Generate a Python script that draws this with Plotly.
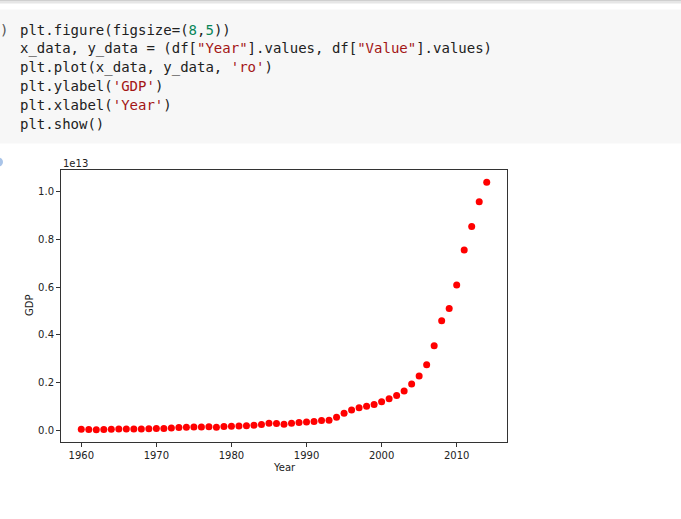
import plotly.graph_objects as go

# ---- data ----
years = list(range(1960, 2015))
gdp = [
    6.0e10, 5.0e10, 4.7e10, 5.0e10, 5.9e10, 7.0e10, 7.6e10, 7.2e10, 7.0e10, 7.9e10,   # 1960-1969
    9.2e10, 9.9e10, 1.12e11, 1.37e11, 1.42e11, 1.62e11, 1.52e11, 1.72e11, 1.49e11, 1.77e11,  # 1970-1979
    1.91e11, 1.95e11, 2.05e11, 2.31e11, 2.60e11, 3.10e11, 3.01e11, 2.73e11, 3.12e11, 3.48e11,  # 1980-1989
    3.61e11, 3.83e11, 4.27e11, 4.44e11, 5.64e11, 7.34e11, 8.63e11, 9.61e11, 1.029e12, 1.094e12,  # 1990-1999
    1.211e12, 1.339e12, 1.471e12, 1.660e12, 1.955e12, 2.286e12, 2.752e12, 3.552e12, 4.598e12, 5.110e12,  # 2000-2009
    6.087e12, 7.552e12, 8.532e12, 9.570e12, 1.0375e13,  # 2010-2014
]
x_ticks = [1960, 1970, 1980, 1990, 2000, 2010]
y_ticks = [0.0, 0.2e13, 0.4e13, 0.6e13, 0.8e13, 1.0e13]
y_tick_text = ["0.0", "0.2", "0.4", "0.6", "0.8", "1.0"]

code_lines = [
    'plt.figure(figsize=(<span style="color:#098658">8</span>,<span style="color:#098658">5</span>))',
    'x_data, y_data = (df[<span style="color:#a31515">"Year"</span>].values, df[<span style="color:#a31515">"Value"</span>].values)',
    'plt.plot(x_data, y_data, <span style="color:#a31515">\'ro\'</span>)',
    'plt.ylabel(<span style="color:#a31515">\'GDP\'</span>)',
    'plt.xlabel(<span style="color:#a31515">\'Year\'</span>)',
    'plt.show()',
]

# ---- geometry ----
W, H = 681, 519
L, R, T, B = 61, 507, 170, 442
PW, PH = R - L, B - T


def px(x):
    return (x - L) / PW


def py(y):
    return (B - y) / PH


fig = go.Figure()
fig.add_trace(go.Scatter(
    x=years, y=gdp, mode="markers",
    marker=dict(color="#ff0000", size=7, line=dict(width=0)),
    hoverinfo="skip", showlegend=False,
))

shapes = [
    # top shadow
    dict(type="rect", xref="paper", yref="paper", x0=px(0), x1=px(W), y0=py(0), y1=py(1.5),
         fillcolor="#cfcfcf", line=dict(width=0), layer="below"),
    dict(type="rect", xref="paper", yref="paper", x0=px(0), x1=px(W), y0=py(1.5), y1=py(3.5),
         fillcolor="#e6e6e6", line=dict(width=0), layer="below"),
    # code cell background
    dict(type="rect", xref="paper", yref="paper", x0=px(0), x1=px(W), y0=py(9.5), y1=py(143.5),
         fillcolor="#f7f7f7", line=dict(width=0), layer="below"),
    # output prompt icon fragment
    dict(type="circle", xref="paper", yref="paper", x0=px(-6), x1=px(3), y0=py(157.5), y1=py(166.5),
         fillcolor="#a9c4e8", line=dict(width=0), layer="above"),
]

annotations = []
line_y = [30, 48.8, 67.6, 86.4, 105.2, 124]
for txt, yy in zip(code_lines, line_y):
    annotations.append(dict(
        text=txt, xref="paper", yref="paper", x=px(18), y=py(yy),
        xanchor="left", yanchor="middle", showarrow=False,
        font=dict(family="DejaVu Sans Mono", size=14, color="#212121"),
    ))
# prompt fragment ")"
annotations.append(dict(
    text=")", xref="paper", yref="paper", x=px(-2), y=py(30),
    xanchor="left", yanchor="middle", showarrow=False,
    font=dict(family="DejaVu Sans Mono", size=14, color="#555555"),
))
# offset text
annotations.append(dict(
    text="1e13", xref="paper", yref="paper", x=px(61), y=py(163),
    xanchor="left", yanchor="middle", showarrow=False,
    font=dict(family="DejaVu Sans", size=10, color="#222222"),
))
# axis labels
annotations.append(dict(
    text="GDP", xref="paper", yref="paper", x=px(29), y=py(306),
    xanchor="center", yanchor="middle", showarrow=False, textangle=-90,
    font=dict(family="DejaVu Sans", size=10, color="#222222"),
))
annotations.append(dict(
    text="Year", xref="paper", yref="paper", x=px(284), y=py(467),
    xanchor="center", yanchor="middle", showarrow=False,
    font=dict(family="DejaVu Sans", size=10, color="#222222"),
))

span_x = years[-1] - years[0]
span_y = max(gdp) - min(gdp)
fig.update_layout(
    width=W, height=H, autosize=False,
    margin=dict(l=L, r=W - R, t=T, b=H - B, pad=0),
    paper_bgcolor="white", plot_bgcolor="white",
    shapes=shapes, annotations=annotations,
    font=dict(family="DejaVu Sans", size=10, color="#222222"),
    xaxis=dict(
        range=[years[0] - 0.05 * span_x, years[-1] + 0.05 * span_x],
        tickvals=x_ticks, ticktext=[str(v) for v in x_ticks],
        showgrid=False, zeroline=False,
        showline=True, mirror=True, linecolor="#333333", linewidth=1,
        ticks="outside", ticklen=4, tickwidth=1, tickcolor="#333333",
        tickfont=dict(family="DejaVu Sans", size=10, color="#222222"),
    ),
    yaxis=dict(
        range=[min(gdp) - 0.05 * span_y, max(gdp) + 0.05 * span_y],
        tickvals=y_ticks, ticktext=y_tick_text,
        showgrid=False, zeroline=False,
        showline=True, mirror=True, linecolor="#333333", linewidth=1,
        ticks="outside", ticklen=4, tickwidth=1, tickcolor="#333333",
        tickfont=dict(family="DejaVu Sans", size=10, color="#222222"),
    ),
)

fig.write_html(
    "out.html",
    config={"displayModeBar": False},
    post_script=(
        "document.body.style.margin='0px';"
        "document.body.style.overflow='hidden';"
        "document.documentElement.style.overflow='hidden';"
    ),
)
